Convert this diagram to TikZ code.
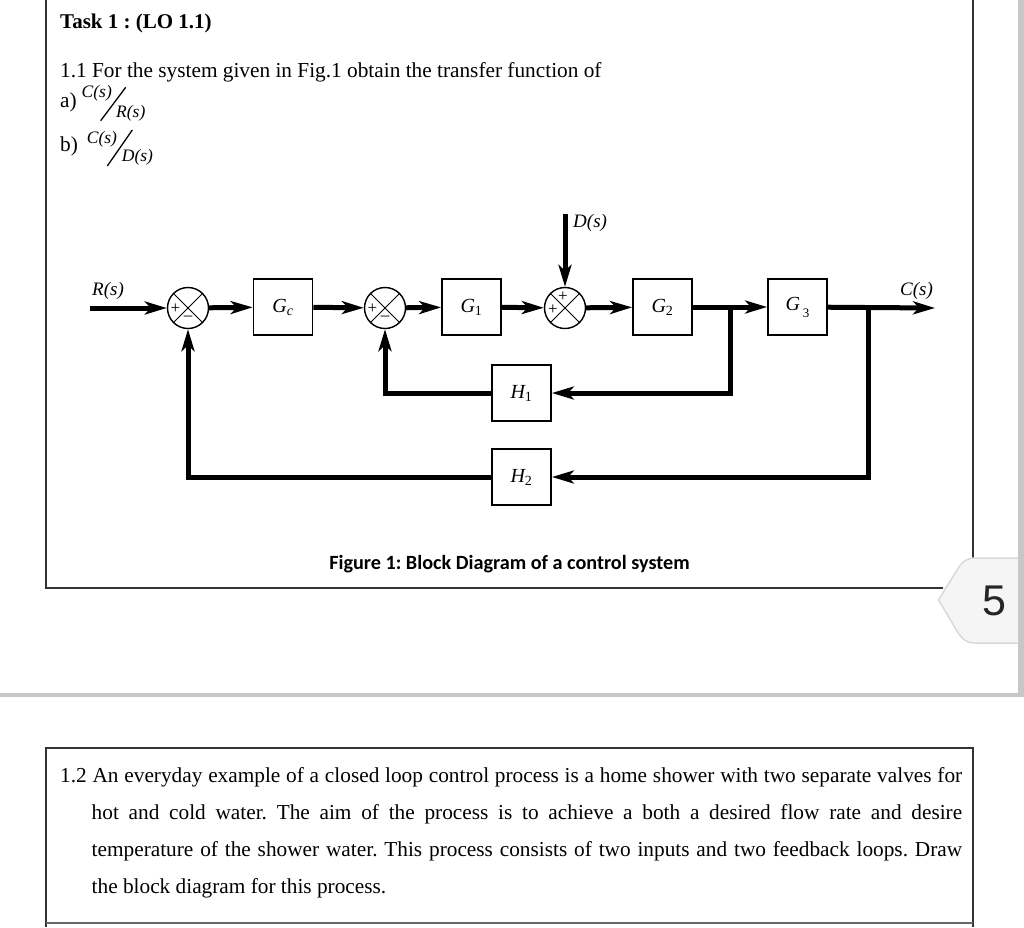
\documentclass[tikz,border=0pt]{standalone}
\usepackage{fontspec}
\setmainfont{Liberation Serif}
\newfontfamily\capfont{Carlito}
\newfontfamily\tabfont{Liberation Sans}
\usetikzlibrary{arrows.meta}
\frenchspacing

\begin{document}
\begin{tikzpicture}[x=1pt,y=-1pt,
  blk/.style={draw,line width=1.8pt,minimum width=59pt,minimum height=56pt,inner sep=0pt,font=\fontsize{20}{20}\selectfont\itshape},
  sumnode/.style={circle,draw,line width=1.4pt,minimum size=41pt,inner sep=0pt},
  sgn/.style={inner sep=0pt,font=\fontsize{17}{17}\selectfont},
  sig/.style={line width=5pt,-{Stealth[length=22pt,width=13pt,inset=6pt]}},
  lbl/.style={inner sep=0pt,anchor=base west,font=\fontsize{19}{19}\selectfont\itshape},
  txt/.style={inner sep=0pt,anchor=base west,font=\fontsize{21.3}{21.3}\selectfont},
  frac/.style={inner sep=0pt,anchor=base west,font=\fontsize{17.5}{17.5}\selectfont\itshape},
  frame/.style={line width=1.5pt,draw=black!80},
  greybar/.style={fill=black!22}]
  \useasboundingbox (0,0) rectangle (1024,927);
  % page frame and margins
  \fill[greybar] (1018,0) rectangle (1024,697);
  \fill[greybar] (0,693) rectangle (1024,697);
  \draw[frame] (46,0) -- (46,588) -- (943,588);
  \draw[frame] (973,0) -- (973,558);
  \draw[frame] (46,927) -- (46,748) -- (973,748) -- (973,927);
  \draw[frame,draw=black!60] (46,923) -- (973,923);
  % page tab
  \filldraw[fill=black!4,draw=black!15,line width=1.5pt] (1018,558) -- (975,558)
    .. controls (966,558) and (962,562) .. (957,570) -- (941,596)
    .. controls (938,600) .. (941,604) -- (957,631)
    .. controls (962,639) and (966,643) .. (975,643) -- (1018,643);
  \node[inner sep=0pt,font=\tabfont\fontsize{43}{43}\selectfont,text=black!85] (pageno) at (994,601) {5};

  % task text
  \node[txt,font=\fontsize{21}{21}\selectfont\bfseries] (task) at (60,28) {Task 1 : (LO 1.1)};
  \node[txt] (qone) at (60,77) {1.1 For the system given in Fig.1 obtain the transfer function of};
  \node[txt] (qa) at (60,107) {a)};
  \node[frac] (qanum) at (81.5,97.3) {C(s)};
  \draw[line width=1.3pt] (100.7,120.7) -- (125.7,87.3);
  \node[frac] (qaden) at (116,117.7) {R(s)};
  \node[txt] (qb) at (60,151.7) {b)};
  \node[frac] (qbnum) at (86.7,143.3) {C(s)};
  \draw[line width=1.3pt] (107.3,166) -- (132.3,130);
  \node[frac] (qbden) at (121.7,161.7) {D(s)};

  % summing points
  \node[sumnode] (sumr) at (188,308) {};
  \node[sumnode] (sumg) at (385,308) {};
  \node[sumnode] (sumd) at (565,308) {};
  \foreach \s in {sumr,sumg,sumd}{
    \draw[line width=1pt] (\s.north east) -- (\s.south west);
    \draw[line width=1pt] (\s.north west) -- (\s.south east);
  }
  \node[sgn] (sra) at ([xshift=-12.5pt,yshift=-1pt]sumr.center) {+};
  \node[sgn] (srb) at ([yshift=-10pt]sumr.center) {--};
  \node[sgn] (sga) at ([xshift=-12.5pt,yshift=-1pt]sumg.center) {+};
  \node[sgn] (sgb) at ([yshift=-10pt]sumg.center) {--};
  \node[sgn] (sda) at ([xshift=-2pt,yshift=11pt]sumd.center) {+};
  \node[sgn] (sdb) at ([xshift=-12pt,yshift=-2pt]sumd.center) {+};

  % blocks
  \node[blk] (gc) at (283,307) {G\textsubscript{c}};
  \node[blk] (gone) at (471.5,307) {G\textsubscript{\upshape 1}};
  \node[blk] (gtwo) at (662.5,307) {G\textsubscript{\upshape 2}};
  \node[blk] (gthree) at (797.5,307) {G\kern3pt\raisebox{-7pt}{\upshape\fontsize{13}{13}\selectfont 3}};
  \node[blk] (hone) at (521.5,393) {H\textsubscript{\upshape 1}};
  \node[blk] (htwo) at (521.5,477) {H\textsubscript{\upshape 2}};

  % signal labels
  \node[lbl] (rlab) at (92,295) {R(s)};
  \node[lbl] (clab) at (900,295) {C(s)};
  \node[lbl] (dlab) at (573,227) {D(s)};
  \coordinate (rin) at (90,308);
  \coordinate (cout) at (935,308);
  \coordinate (dtop) at (565,214);
  \coordinate (bra) at (730,308);
  \coordinate (brb) at (868,308);

  % forward path
  \draw[sig] (rin) -- (sumr);
  \draw[sig] (sumr) -- (gc);
  \draw[sig] (gc) -- (sumg);
  \draw[sig] (sumg) -- (gone);
  \draw[sig] (gone) -- (sumd);
  \draw[sig] (dtop) -- (sumd);
  \draw[sig] (sumd) -- (gtwo);
  \draw[sig] (gtwo) -- (gthree);
  \draw[sig] (gthree) -- (cout);
  % feedback loops
  \draw[sig] (bra) |- (hone);
  \draw[sig] (hone) -| (sumg);
  \draw[sig] (brb) |- (htwo);
  \draw[sig] (htwo) -| (sumr);

  % caption
  \node[inner sep=0pt,anchor=base,font=\capfont\bfseries\fontsize{20.2}{20.2}\selectfont] (cap) at (509.5,569) {Figure 1: Block Diagram of a control system};

  % question 1.2
  \node[txt] (qca) at (60,782) {\makebox[902pt][s]{1.2 An everyday example of a closed loop control process is a home shower with two separate valves for}};
  \node[txt] (qcb) at (91.5,819) {\makebox[870.5pt][s]{hot and cold water. The aim of the process is to achieve a both a desired flow rate and desire}};
  \node[txt] (qcc) at (91.5,856) {\makebox[870.5pt][s]{temperature of the shower water. This process consists of two inputs and two feedback loops. Draw}};
  \node[txt] (qcd) at (91.5,893) {the block diagram for this process.};
\end{tikzpicture}
\end{document}
